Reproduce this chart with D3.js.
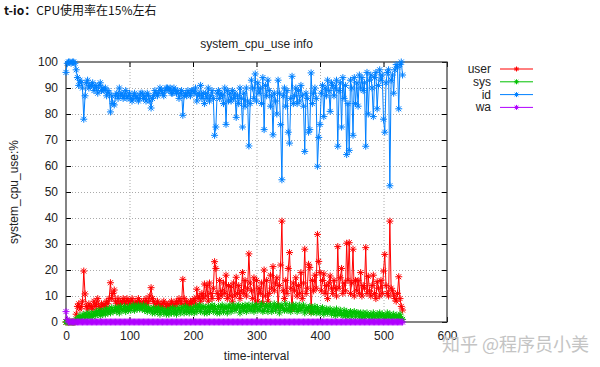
<!DOCTYPE html>
<html>
<head>
<meta charset="utf-8">
<script src="https://cdn.jsdelivr.net/npm/d3@7"></script>
<style>
  body { margin: 0; background: #fff; }
  svg { display: block; font-family: "Liberation Sans", Arial, "Noto Sans CJK SC", sans-serif; }
</style>
</head>
<body>
<script>
// sampled every 2 time units, t = 0 .. 530
const timeStep = 2

const userVals = [
  0, 0, 0, 0, 0, 0, 0, 0, 3, 6,
  7, 5, 6, 8, 19.6, 10.8, 6, 5, 7, 6,
  6, 5, 8, 6, 7, 9, 6, 5, 7, 6,
  7, 6, 8, 7, 9, 15.1, 9, 11, 12.3, 8,
  7, 9, 6, 8, 7, 9, 8, 7, 9, 8,
  7, 8, 9, 7, 6, 8, 7, 9, 8, 7,
  6, 8, 7, 9, 7, 8, 10, 13.2, 9, 8,
  7, 6, 8, 7, 6, 7, 6, 8, 7, 6,
  6, 7, 6, 8, 7, 6, 7, 8, 7, 9,
  8, 7, 16.4, 9, 7, 8, 6, 7, 8, 7,
  8, 9, 7, 12.6, 9, 10, 8, 11, 9, 14.6,
  10, 14, 8, 15, 11, 9, 13, 23.2, 20.6, 11,
  9, 16, 10, 12, 15, 11, 18, 9, 14, 10,
  13.8, 8, 15, 10, 17.2, 11, 14, 9, 12, 19,
  11, 16, 10, 13, 26.2, 15, 12, 9, 17, 6,
  16, 8, 13, 11, 15, 7, 20, 10, 16, 8,
  11, 18, 13, 21.3, 12, 15, 17, 6, 14, 21.9,
  38.8, 12, 9, 16, 11, 20.6, 26.7, 13, 5, 15,
  12, 17, 10, 14, 11, 19, 9, 15, 28, 11,
  13, 22.2, 21, 4, 16, 12, 18, 13, 33.7, 23.3,
  19, 12, 16, 18.5, 11, 14, 9, 15, 17.7, 13,
  11, 16, 13, 10, 29, 13, 17, 20.6, 11, 15,
  12, 30.3, 16, 30.5, 11, 15, 28, 10, 16, 12,
  16, 11, 19, 10, 14, 13, 28.6, 11, 17.6, 12,
  10, 14, 18, 11, 9, 15.5, 13, 10, 16, 11,
  19.6, 26, 14, 11, 10, 38.8, 13, 12, 10.4, 9,
  8, 11, 17.4, 9, 6, 4.6
]

const sysVals = [
  0, 0, 0, 0, 0, 0, 0, 0, 1, 1,
  1.5, 2.5, 1, 2, 3, 1.5, 3, 2, 3.5, 2,
  3, 2, 3.5, 2.5, 4, 3, 4.5, 2.5, 4, 3,
  4.5, 3, 5, 3.5, 5, 3.5, 5.5, 4, 4.5, 5.5,
  4, 5.5, 3.5, 6, 4.5, 5, 6, 4, 5.5, 4.5,
  6, 4.5, 5.5, 6.5, 4.5, 6, 5, 6.5, 5, 6,
  5, 6.5, 4.5, 6, 4, 5.5, 4.5, 5, 3.5, 5.5,
  3.5, 5, 4, 5.5, 3, 4.5, 5, 3.5, 4.5, 3,
  4.5, 3, 5, 3.5, 5.5, 3.5, 5, 3, 4.5, 5.5,
  3.5, 5, 5.5, 3.5, 6, 4, 5.5, 3.5, 5, 4,
  5.5, 3.5, 6, 4, 5.5, 6.5, 4, 5.5, 6, 3.5,
  5.5, 3.5, 6, 4, 5.5, 6.5, 4, 6, 5, 3.5,
  6, 3.5, 5.5, 6.5, 4, 5.5, 6, 3.5, 5.5, 6.5,
  4, 5.5, 6.5, 4.5, 5, 6, 6.5, 3.5, 5.5, 6,
  4.5, 6.5, 4, 6, 6.5, 4.5, 5, 6.5, 4, 6,
  6.5, 4.5, 5, 6, 7, 4, 4.5, 6, 6.5, 4,
  6, 6.5, 4, 5.5, 7, 4.5, 6, 6.5, 3.5, 5.5,
  6.5, 5, 4.5, 7, 4.5, 5, 6.5, 4, 5.5, 6.5,
  5, 6.5, 4, 5, 6.5, 4.5, 5.5, 6.5, 3.5, 5.5,
  4.5, 5.5, 6, 3.5, 5.5, 4, 6, 3.5, 5.5, 4,
  3.5, 5, 5.5, 3, 4, 5, 3.5, 4.5, 5, 3,
  4, 4.5, 2.5, 5, 3, 3.5, 4.5, 3, 2.5, 4.5,
  2.5, 4, 2, 3.5, 4, 2, 3.5, 4, 2, 3.5,
  3.5, 2, 3.5, 1.5, 3.5, 2, 2.5, 3.5, 2, 2.5,
  3, 1.5, 3.5, 2, 2.5, 3, 1.5, 3.5, 2, 3,
  2.5, 2, 1.5, 3.5, 2, 3, 1.5, 2, 3, 2,
  2.5, 1.5, 2, 3, 1.5, 1
]

const idVals = [
  96, 99.5, 100, 100, 99.5, 100, 100, 99.5, 97, 94,
  91, 93, 92, 90, 78, 87, 92, 93, 90, 91,
  91, 92, 89, 91, 90, 88, 91, 92, 89, 90,
  89, 90, 87, 89, 88, 80.8, 87, 84, 83.5, 87,
  88, 86, 90, 87, 88, 86, 87, 89, 86, 87,
  88, 86, 85, 87, 88, 86, 87, 85, 86, 88,
  88, 86, 87, 85, 88, 87, 85, 82.3, 86, 87,
  89, 88, 87, 88, 90, 89, 88, 87, 89, 90,
  90, 89, 90, 88, 88, 90, 89, 88, 89, 86,
  88, 89, 79.5, 87, 88, 87, 89, 88, 87, 89,
  89, 88, 90, 85, 88, 87, 91, 86, 88, 84,
  88, 86, 90, 85, 87, 89, 86, 71.8, 75, 88,
  89, 86, 88, 87, 84, 90, 76, 89, 85, 88,
  85, 89, 86, 88, 78.7, 87, 84, 90, 86, 75,
  88, 83, 90, 85, 67.7, 84, 93, 90, 86, 95.4,
  85, 92, 88, 90, 84, 94, 74, 91, 87, 93,
  89, 83, 87, 72, 88, 85, 80, 93, 88, 75.9,
  54.7, 87, 90, 83, 89, 73, 68.8, 86, 94.5, 84,
  87, 90, 84, 89, 85, 91, 87, 83, 65.6, 88,
  86, 73, 74, 95.8, 84, 88, 90, 86, 59.9, 71,
  76, 88, 91, 79, 90, 87, 93, 89, 81, 92,
  91, 87, 90, 93, 67.6, 89, 92, 75, 94, 86,
  91, 64.4, 84, 66, 93, 90, 71.8, 94, 84, 92,
  83, 95, 90, 94, 89, 92, 67.6, 96, 80, 93,
  95, 90, 79, 94, 96, 82, 91, 97, 93, 95,
  78, 73, 92, 96, 97, 52.4, 93, 95, 88, 97,
  99, 98, 82, 99, 100, 95
]

const waVals = [
  4, 1, 0, 0, 0, 0, 0, 0, 0, 0,
  0, 0, 0, 0, 0, 0, 0, 0, 0, 0,
  0, 0, 0, 0, 0, 0, 0, 0, 0, 0,
  0, 0, 0, 0, 0, 0, 0, 0, 0, 0,
  0, 0, 0, 0, 0, 0, 0, 0, 0, 0,
  0, 0, 0, 0, 0, 0, 0, 0, 0, 0,
  0, 0, 0, 0, 0, 0, 0, 0, 0, 0,
  0, 0, 0, 0, 0, 0, 0, 0, 0, 0,
  0, 0, 0, 0, 0, 0, 0, 0, 0, 0,
  0, 0, 0, 0, 0, 0, 0, 0, 0, 0,
  0, 0, 0, 0, 0, 0, 0, 0, 0, 0,
  0, 0, 0, 0, 0, 0, 0, 0, 0, 0,
  0, 0, 0, 0, 0, 0, 0, 0, 0, 0,
  0, 0, 0, 0, 0, 0, 0, 0, 0, 0,
  0, 0, 0, 0, 0, 0, 0, 0, 0, 0,
  0, 0, 0, 0, 0, 0, 0, 0, 0, 0,
  0, 0, 0, 0, 0, 0, 0, 0, 0, 0,
  0, 0, 0, 0, 0, 0, 0, 0, 0, 0,
  0, 0, 0, 0, 0, 0, 0, 0, 0, 0,
  0, 0, 0, 0, 0, 0, 0, 0, 0, 0,
  0, 0, 0, 0, 0, 0, 0, 0, 0, 0,
  0, 0, 0, 0, 0, 0, 0, 0, 0, 0,
  0, 0, 0, 0, 0, 0, 0, 0, 0, 0,
  0, 0, 0, 0, 0, 0, 0, 0, 0, 0,
  0, 0, 0, 0, 0, 0, 0, 0, 0, 0,
  0, 0, 0, 0, 0, 0, 0, 0, 0, 0,
  0, 0, 0, 0, 0, 0
]

const seriesNames = ['user', 'sys', 'id', 'wa']
const seriesColors = ['#ff0000', '#00c000', '#0080ff', '#b000ff']
const xTicks = [0, 100, 200, 300, 400, 500, 600]
const yTicks = [0, 10, 20, 30, 40, 50, 60, 70, 80, 90, 100]

const width = 600
const height = 367
const plotLeft = 66
const plotRight = 447
const plotTop = 62
const plotBottom = 322

const svg = d3.select('body').append('svg')
  .attr('width', width)
  .attr('height', height)

const x = d3.scaleLinear().domain([0, 600]).range([plotLeft, plotRight])
const y = d3.scaleLinear().domain([0, 100]).range([plotBottom, plotTop])

// header above the gnuplot picture
svg.append('text')
  .attr('x', 4)
  .attr('y', 15)
  .attr('font-size', 12)
  .attr('fill', '#111')
  .attr('font-family', '"Noto Sans CJK SC", sans-serif')
  .call(t => {
    t.append('tspan').attr('font-weight', 'bold').text('t-io：')
    t.append('tspan').text('CPU使用率在15%左右')
  })

// grid
svg.append('g')
  .attr('transform', 'translate(0,' + plotBottom + ')')
  .call(d3.axisBottom(x).tickValues(xTicks.slice(1, -1)).tickSize(-(plotBottom - plotTop)).tickFormat(''))
  .call(g => g.select('.domain').remove())
  .selectAll('line').attr('stroke', '#aaa').attr('stroke-dasharray', '1,2')

svg.append('g')
  .attr('transform', 'translate(' + plotLeft + ',0)')
  .call(d3.axisLeft(y).tickValues(yTicks.slice(1, -1)).tickSize(-(plotRight - plotLeft)).tickFormat(''))
  .call(g => g.select('.domain').remove())
  .selectAll('line').attr('stroke', '#aaa').attr('stroke-dasharray', '1,2')

// axes with inward ticks
const axisFont = g => g.selectAll('text')
  .attr('font-size', 12)
  .attr('fill', '#222')
  .attr('font-family', '"Liberation Sans", Arial, sans-serif')

svg.append('g')
  .attr('transform', 'translate(' + plotLeft + ',0)')
  .call(d3.axisLeft(y).tickValues(yTicks).tickSize(-5).tickPadding(8))
  .call(g => g.select('.domain').remove())
  .call(axisFont)

svg.append('g')
  .attr('transform', 'translate(0,' + plotBottom + ')')
  .call(d3.axisBottom(x).tickValues(xTicks).tickSize(-5).tickPadding(9))
  .call(g => g.select('.domain').remove())
  .call(axisFont)

svg.append('g')
  .attr('transform', 'translate(' + plotRight + ',0)')
  .call(d3.axisRight(y).tickValues(yTicks).tickSize(-5).tickFormat(''))
  .call(g => g.select('.domain').remove())

svg.append('g')
  .attr('transform', 'translate(0,' + plotTop + ')')
  .call(d3.axisTop(x).tickValues(xTicks).tickSize(-5).tickFormat(''))
  .call(g => g.select('.domain').remove())

svg.append('rect')
  .attr('x', plotLeft)
  .attr('y', plotTop)
  .attr('width', plotRight - plotLeft)
  .attr('height', plotBottom - plotTop)
  .attr('fill', 'none')
  .attr('stroke', '#333')
  .attr('stroke-width', 1.2)

// series
const star = 'M-3.5,0H3.5M0,-3.5V3.5M-2.5,-2.5L2.5,2.5M-2.5,2.5L2.5,-2.5'
const allVals = [userVals, sysVals, idVals, waVals]
const line = d3.line()
  .x((d, i) => x(i * timeStep))
  .y(d => y(d))

allVals.forEach((vals, k) => {
  const g = svg.append('g')
  g.append('path')
    .attr('d', line(vals))
    .attr('fill', 'none')
    .attr('stroke', seriesColors[k])
    .attr('stroke-width', 1)
  g.selectAll('path.pt')
    .data(vals)
    .enter().append('path')
    .attr('class', 'pt')
    .attr('d', star)
    .attr('transform', (d, i) => 'translate(' + x(i * timeStep) + ',' + y(d) + ')')
    .attr('fill', 'none')
    .attr('stroke', seriesColors[k])
    .attr('stroke-width', 1)
})

// titles
svg.append('text')
  .attr('x', (plotLeft + plotRight) / 2)
  .attr('y', 48)
  .attr('text-anchor', 'middle')
  .attr('font-size', 12)
  .attr('fill', '#222')
  .text('system_cpu_use info')

svg.append('text')
  .attr('x', (plotLeft + plotRight) / 2)
  .attr('y', 360)
  .attr('text-anchor', 'middle')
  .attr('font-size', 12)
  .attr('fill', '#222')
  .text('time-interval')

svg.append('text')
  .attr('transform', 'translate(18,' + (plotTop + plotBottom) / 2 + ') rotate(-90)')
  .attr('text-anchor', 'middle')
  .attr('font-size', 12)
  .attr('fill', '#222')
  .text('system_cpu_use:%')

// legend
const legend = svg.append('g')
seriesNames.forEach((name, k) => {
  const ly = 69 + k * 12.8
  legend.append('text')
    .attr('x', 491)
    .attr('y', ly + 4)
    .attr('text-anchor', 'end')
    .attr('font-size', 12)
    .attr('fill', '#222')
    .text(name)
  legend.append('line')
    .attr('x1', 500).attr('x2', 533)
    .attr('y1', ly).attr('y2', ly)
    .attr('stroke', seriesColors[k])
  legend.append('path')
    .attr('d', 'M-2.5,0H2.5M0,-2.5V2.5M-1.8,-1.8L1.8,1.8M-1.8,1.8L1.8,-1.8')
    .attr('transform', 'translate(516.5,' + ly + ')')
    .attr('fill', 'none')
    .attr('stroke', seriesColors[k])
})

// watermark (overlaps the last tick label in the reference as well)
svg.append('text')
  .attr('x', 589)
  .attr('y', 351)
  .attr('text-anchor', 'end')
  .attr('font-size', 18)
  .attr('fill', '#c4c4c4')
  .attr('font-family', '"Noto Sans CJK SC", sans-serif')
  .text('知乎 @程序员小美')
</script>
</body>
</html>
